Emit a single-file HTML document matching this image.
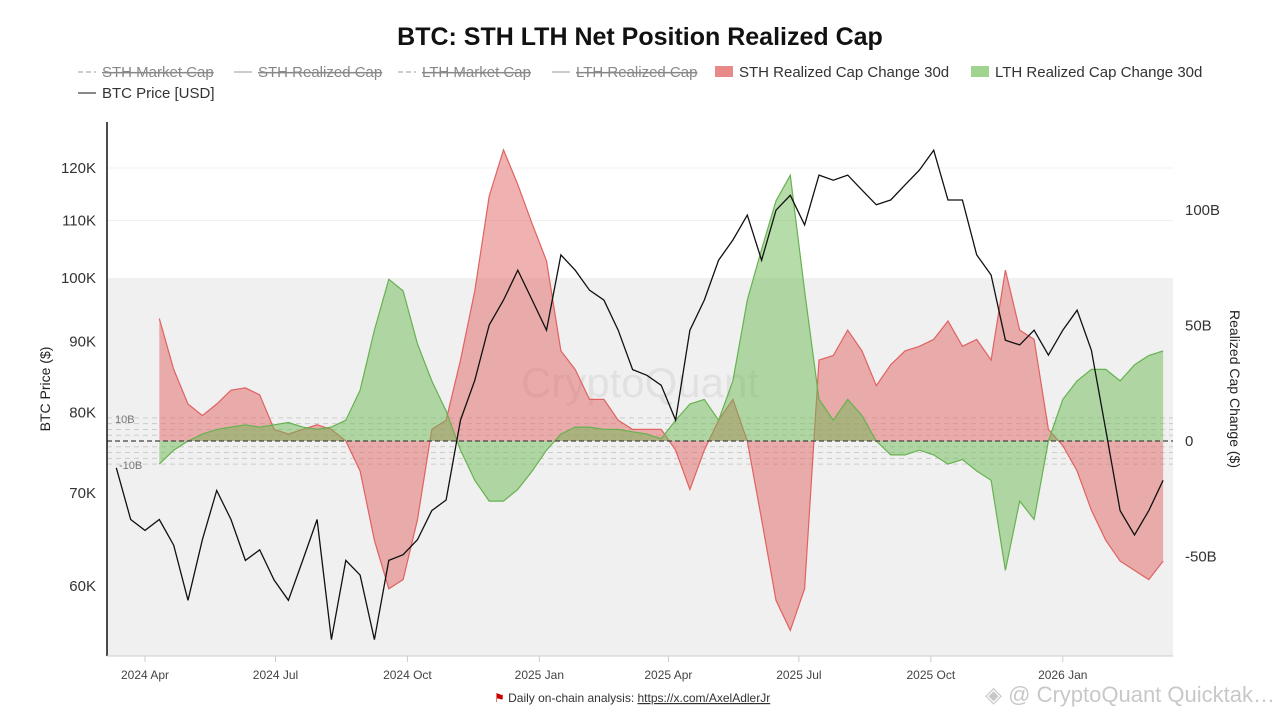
<!DOCTYPE html>
<html><head><meta charset="utf-8"><style>
body{margin:0;background:#fff;font-family:"Liberation Sans",sans-serif}
svg{display:block}
</style></head><body>
<svg id="c" width="1280" height="720" xmlns="http://www.w3.org/2000/svg">
<text x="640" y="45" text-anchor="middle" font-size="25" font-weight="bold" fill="#111">BTC: STH LTH Net Position Realized Cap</text>
<g font-size="15" fill="#333">
 <g><line x1="78" y1="72" x2="96" y2="72" stroke="#999" stroke-dasharray="5,3"/><text x="102" y="77" fill="#888" text-decoration="line-through">STH Market Cap</text></g>
 <g><line x1="234" y1="72" x2="252" y2="72" stroke="#999"/><text x="258" y="77" fill="#888" text-decoration="line-through">STH Realized Cap</text></g>
 <g><line x1="398" y1="72" x2="416" y2="72" stroke="#999" stroke-dasharray="5,3"/><text x="422" y="77" fill="#888" text-decoration="line-through">LTH Market Cap</text></g>
 <g><line x1="552" y1="72" x2="570" y2="72" stroke="#999"/><text x="576" y="77" fill="#888" text-decoration="line-through">LTH Realized Cap</text></g>
 <g><rect x="715" y="66" width="18" height="11" fill="#e88a8a"/><text x="739" y="77">STH Realized Cap Change 30d</text></g>
 <g><rect x="971" y="66" width="18" height="11" fill="#9fd38e"/><text x="995" y="77">LTH Realized Cap Change 30d</text></g>
 <g><line x1="78" y1="93" x2="96" y2="93" stroke="#111"/><text x="102" y="98">BTC Price [USD]</text></g>
</g>
<rect x="107" y="278" width="1066" height="378" fill="#f0f0f0"/>
<g id="grid"></g>
<text x="640" y="397" text-anchor="middle" font-size="42" fill="#000" opacity="0.06">CryptoQuant</text>
<g id="marks"></g>
<line x1="107" y1="122" x2="107" y2="656" stroke="#111" stroke-width="1.5"/>
<line x1="107" y1="656" x2="1173" y2="656" stroke="#ccc"/>
<g id="axes" font-size="14" fill="#333"></g>
<text transform="translate(50,389) rotate(-90)" text-anchor="middle" font-size="14" fill="#222">BTC Price ($)</text>
<text transform="translate(1230,389) rotate(90)" text-anchor="middle" font-size="14" fill="#222">Realized Cap Change ($)</text>
<text x="494" y="702" font-size="12" fill="#333"><tspan fill="#c00">⚑</tspan> Daily on-chain analysis: <tspan text-decoration="underline">https://x.com/AxelAdlerJr</tspan></text>
<text x="1275" y="702" text-anchor="end" font-size="22" fill="#bbb" opacity="0.8">◈ @ CryptoQuant Quicktak…</text>
</svg>
<script>
const priceStartDay=-20, changeStartDay=10, stepDays=10;
const priceK=[73,67,65.8,67,64.2,58.6,64.8,70.3,67,62.6,63.7,60.6,58.6,62.6,67,54.9,62.6,61.1,54.9,62.6,63.2,64.8,68,69.2,79,84.4,92.5,96.4,101.3,96.4,91.7,103.9,101.3,98,96.4,91.7,85.9,85.1,83.7,79,91.7,96.4,103,106.5,111,103,111.9,114.7,109.2,118.6,117.6,118.6,115.7,112.9,113.8,116.7,119.6,123.6,113.8,113.8,103.9,100.5,90.2,89.5,91.7,88,91.7,94.8,88.7,77.7,68,65.3,68,71.5];
const sthB=[53,31,16,11,16,22,23,20,5,3,5,7,5,0,-13,-43,-64,-60,-34,5,9,35,65,106,126,111,94,78,39,31,18,18,9,5,5,5,-4,-21,-4,9,18,0,-34,-69,-82,-64,35,37,48,39,24,33,39,41,44,52,41,44,35,74,48,44,5,-2,-13,-30,-43,-52,-56,-60,-52];
const lthB=[-10,-4,0,3,5,6,7,6,7,8,6,5,6,9,22,48,70,65,42,26,13,-4,-17,-26,-26,-21,-13,-4,3,6,6,5,5,4,3,1,9,16,18,9,26,61,83,104,115,65,18,9,18,11,0,-6,-6,-4,-6,-10,-8,-13,-17,-56,-26,-34,0,18,26,31,31,26,33,37,39];
const priceTicks=[60,70,80,90,100,110,120];
const capTicks=[-50,0,50,100];
const xTickLabels=["2024 Apr","2024 Jul","2024 Oct","2025 Jan","2025 Apr","2025 Jul","2025 Oct","2026 Jan"];
const xTickDays=[0,91,183,275,365,456,548,640];
const NS="http://www.w3.org/2000/svg";
const X=d=>145+d*1.434;
const YP=k=>278-603*Math.log(k/100);
const YC=b=>441-2.31*b;
function mk(t,a,p){const e=document.createElementNS(NS,t);for(const k in a)e.setAttribute(k,a[k]);(p||document.getElementById('marks')).appendChild(e);return e;}
const grid=document.getElementById('grid'),axes=document.getElementById('axes');
[-20,-15,-10,-5,5,10,15,20].forEach(b=>{
 const l=mk('line',{x1:107,x2:1173,y1:YC(b/2),y2:YC(b/2),stroke:'#ccc','stroke-dasharray':'5,4'},grid);
 
 
});
[120,110].forEach(k=>{const l=mk('line',{x1:107,x2:1173,y1:YP(k),y2:YP(k),stroke:'#f0f0f0'},grid);
 
 });
let t=mk('text',{x:115,y:YC(10)+5,'font-size':11,fill:'#777'},grid);t.textContent='10B';


t=mk('text',{x:119,y:YC(-10)+5,'font-size':11,fill:'#777'},grid);t.textContent='-10B';


function area(vals,fill,stroke,name){
 let d='M'+X(changeStartDay)+','+YC(0);
 vals.forEach((v,i)=>d+=' L'+X(changeStartDay+i*stepDays).toFixed(1)+','+YC(v).toFixed(1));
 d+=' L'+X(changeStartDay+(vals.length-1)*stepDays)+','+YC(0)+'Z';
 const a=mk('path',{d:d,fill:fill,stroke:'none'});
 
 
 let l='';vals.forEach((v,i)=>l+=(i?' L':'M')+X(changeStartDay+i*stepDays).toFixed(1)+','+YC(v).toFixed(1));
 const p=mk('path',{d:l,fill:'none',stroke:stroke,'stroke-width':1.2});
 
 
}
area(sthB,'rgba(226,100,100,0.5)','#e06262','sth-change');
area(lthB,'rgba(110,185,85,0.5)','#66b24f','lth-change');
const z=mk('line',{x1:107,x2:1173,y1:YC(0),y2:YC(0),stroke:'#444','stroke-dasharray':'5,3','stroke-width':1.3});


let pd='';priceK.forEach((k,i)=>pd+=(i?' L':'M')+X(priceStartDay+i*stepDays).toFixed(1)+','+YP(k).toFixed(1));
const pl=mk('path',{d:pd,fill:'none',stroke:'#111','stroke-width':1.3});


priceTicks.forEach(k=>{const e=mk('text',{x:96,y:YP(k)+5,'text-anchor':'end','font-size':15},axes);e.textContent=k+'K';
 
 });
capTicks.forEach(b=>{const e=mk('text',{x:1185,y:YC(b)+5,'font-size':15},axes);e.textContent=b===0?'0':b+'B';
 
 });
xTickLabels.forEach((s,i)=>{const x=X(xTickDays[i]);
 const tk=mk('line',{x1:x,x2:x,y1:656,y2:662,stroke:'#ccc'},axes);
 
 
 const e=mk('text',{x:x,y:679,'text-anchor':'middle','font-size':12,fill:'#444'},axes);e.textContent=s;
 
 });
</script>
</body></html>
